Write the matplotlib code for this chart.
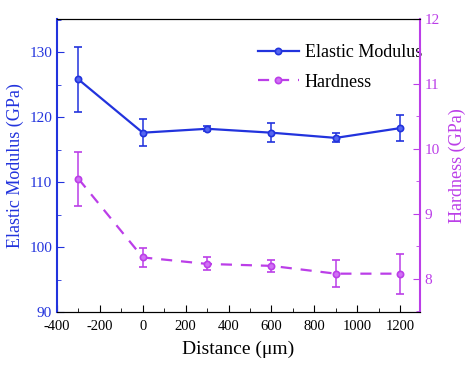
import numpy as np
import matplotlib
matplotlib.use("Agg")
import matplotlib.pyplot as plt
from matplotlib.ticker import MultipleLocator
from matplotlib.lines import Line2D

plt.rcParams['font.family'] = ['Liberation Serif', 'DejaVu Serif']
plt.rcParams['axes.unicode_minus'] = False

# data
distance = [-300, 0, 300, 600, 900, 1200]
modulus = [125.8, 117.6, 118.2, 117.6, 116.8, 118.3]
modulus_err = [5.0, 2.1, 0.4, 1.5, 0.7, 2.0]
hardness = [9.54, 8.33, 8.23, 8.20, 8.08, 8.08]
hardness_err = [0.42, 0.14, 0.10, 0.09, 0.21, 0.31]

blue = '#2233dd'
purple = '#bb3ee8'

fig = plt.figure(figsize=(4.74, 3.79), dpi=100)
ax = fig.add_axes([57/474, 1 - 312/379, (420-57)/474, (312-19)/379])
ax2 = ax.twinx()

style1 = dict(color=blue, lw=1.6, marker='o', ms=4.5, mfc='#5566f0', mec=blue, mew=1.2)
style2 = dict(color=purple, lw=1.6, ls=(0, (5, 4)), marker='o', ms=4.5,
              mfc='#d070f5', mec=purple, mew=1.2)

ax.errorbar(distance, modulus, yerr=modulus_err, capsize=3,
            elinewidth=1.1, capthick=1.1, **style1)
ax2.errorbar(distance, hardness, yerr=hardness_err, capsize=3,
             elinewidth=1.1, capthick=1.1, **style2)

ax.set_xlim(-400, 1293)
ax.set_ylim(90, 135.1)
ax2.set_ylim(7.49, 12)
ax.xaxis.set_major_locator(MultipleLocator(200))
ax.xaxis.set_minor_locator(MultipleLocator(100))
ax.yaxis.set_major_locator(MultipleLocator(10))
ax.yaxis.set_minor_locator(MultipleLocator(5))
ax2.yaxis.set_major_locator(MultipleLocator(1))
ax2.yaxis.set_minor_locator(MultipleLocator(0.5))

ax.tick_params(axis='x', which='both', direction='in', labelsize=10.5, top=False, pad=6)
ax.tick_params(axis='x', which='major', length=5)
ax.tick_params(axis='x', which='minor', length=3)
ax.tick_params(axis='y', which='both', direction='in', colors=blue, labelsize=11)
ax.tick_params(axis='y', which='major', length=5)
ax.tick_params(axis='y', which='minor', length=3)
ax2.tick_params(axis='y', which='both', direction='in', colors=purple, labelsize=11)
ax2.tick_params(axis='y', which='major', length=5)
ax2.tick_params(axis='y', which='minor', length=3)

ax2.spines['left'].set_color(blue)
ax2.spines['right'].set_color(purple)
ax2.spines['left'].set_linewidth(1.5)
ax2.spines['right'].set_linewidth(1.5)
ax.spines['left'].set_visible(False)
ax.spines['right'].set_visible(False)

ax.set_xlabel('Distance (μm)', fontsize=14, labelpad=5)
ax.set_ylabel('Elastic Modulus (GPa)', fontsize=13, color=blue, labelpad=4)
ax2.set_ylabel('Hardness (GPa)', fontsize=13, color=purple, labelpad=6)

handles = [Line2D([], [], **style1), Line2D([], [], **style2)]
ax.legend(handles, ['Elastic Modulus', 'Hardness'], loc='upper right',
          bbox_to_anchor=(1.05, 0.97), frameon=False, fontsize=13,
          handlelength=2.3, handletextpad=0.3, labelspacing=0.7)

fig.savefig('out.png', dpi=100)
